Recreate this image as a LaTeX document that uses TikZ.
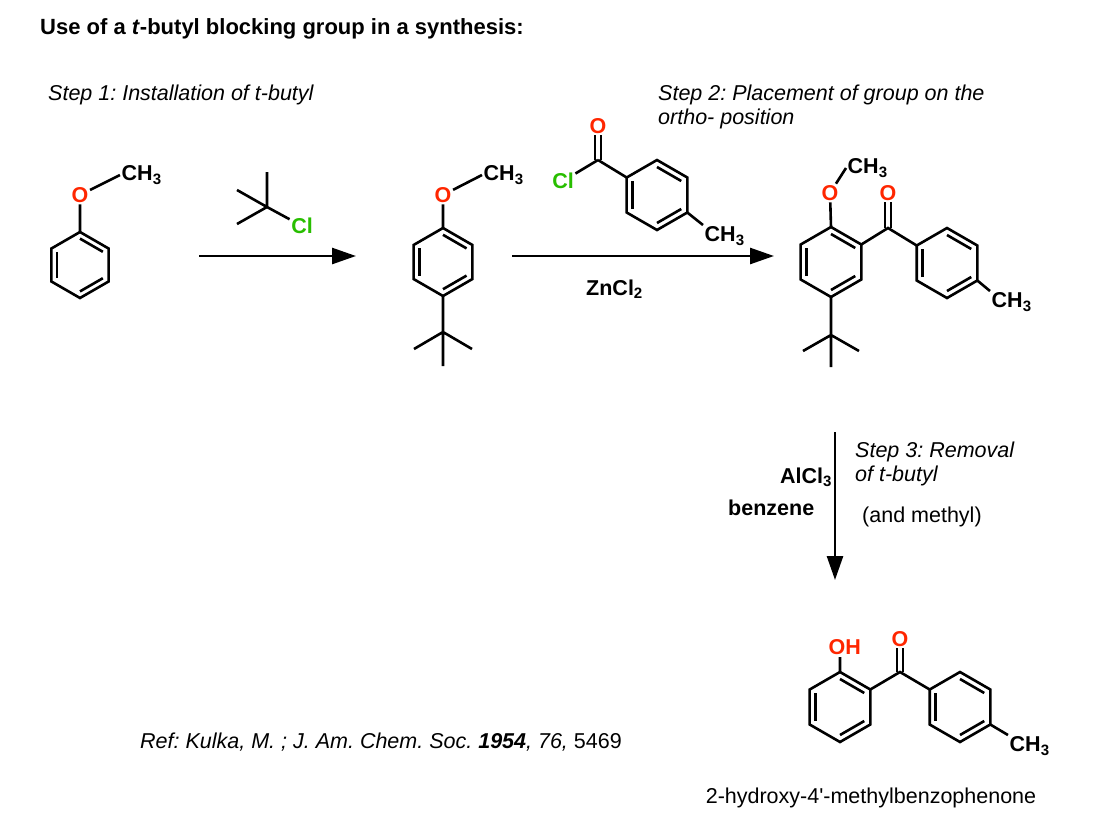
\documentclass[tikz,border=0pt]{standalone}
\usepackage{fontspec}
\setmainfont{Liberation Sans}
\newfontfamily\nomapfont{Liberation Sans}
\usetikzlibrary{calc,arrows.meta}
\definecolor{oxy}{RGB}{255,38,0}
\definecolor{clg}{RGB}{40,190,0}
\newcommand\benz[4]{%
  \coordinate (#3-c) at (#1,#2);
  \coordinate (#3-1) at ([shift={(#1,#2)}] 0,{-#4});
  \coordinate (#3-2) at ([shift={(#1,#2)}] {0.866*#4},{-0.5*#4});
  \coordinate (#3-3) at ([shift={(#1,#2)}] {0.866*#4},{0.5*#4});
  \coordinate (#3-4) at ([shift={(#1,#2)}] 0,{#4});
  \coordinate (#3-5) at ([shift={(#1,#2)}] {-0.866*#4},{0.5*#4});
  \coordinate (#3-6) at ([shift={(#1,#2)}] {-0.866*#4},{-0.5*#4});
  \draw[bond] (#3-1)--(#3-2)--(#3-3)--(#3-4)--(#3-5)--(#3-6)--cycle;
  \draw[bond] ($(#3-1)!0.2!(#3-c)$)--($(#3-2)!0.2!(#3-c)$);
  \draw[bond] ($(#3-3)!0.2!(#3-c)$)--($(#3-4)!0.2!(#3-c)$);
  \draw[bond] ($(#3-5)!0.2!(#3-c)$)--($(#3-6)!0.2!(#3-c)$);
}
\begin{document}
\frenchspacing
\begin{tikzpicture}[x=1pt,y=-1pt,
  bond/.style={line width=2.6pt,line join=miter},
  atom/.style={font=\fontsize{21.5}{22}\selectfont\bfseries,inner sep=1.5pt},
  ox/.style={atom,text=oxy},
  cl/.style={atom,text=clg},
  txt/.style={font=\fontsize{21.5}{24}\selectfont,inner sep=0pt,anchor=base west},
  itxt/.style={txt,font=\fontsize{21.5}{24}\selectfont\itshape},
  btxt/.style={txt,font=\fontsize{21.5}{24}\selectfont\bfseries},
  arr/.style={line width=2.6pt,-{Triangle[length=24pt,width=16pt]}}]
\useasboundingbox (0,0) rectangle (1098,836);
\node[btxt,font=\fontsize{22}{24}\selectfont\bfseries] (title) at (40,34) {Use of a \textit{t}-butyl blocking group in a synthesis:};
\node[itxt] (s1) at (48,100) {Step 1: Installation of t-butyl};
\node[itxt] (s2a) at (658,100) {Step 2: Placement of group on the};
\node[itxt] (s2b) at (658,124) {ortho- position};
% anisole
\benz{80}{265}{a}{33}
\node[ox] (aO) at (80,195) {O};
\node[atom,anchor=west] (aMe) at (120,175) {CH\textsubscript{3}};
\draw[bond] (a-1)--(aO) (aO)--(aMe.west);
% tBuCl
\coordinate (tc) at (267,207);
\node[cl] (tCl) at (302,226) {Cl};
\coordinate (tm1) at (267,172);
\coordinate (tm2) at (237,190);
\coordinate (tm3) at (237,224);
\draw[bond] (tc)--(tm1) (tc)--(tm2) (tc)--(tm3) (tc)--(tCl);
% arrow 1
\coordinate (r1s) at (199,256); \coordinate (r1e) at (356,256);
\draw[arr] (r1s)--(r1e);
% molecule 2
\benz{443}{262}{b}{34}
\node[ox] (bO) at (443,195) {O};
\node[atom,anchor=west] (bMe) at (482,175) {CH\textsubscript{3}};
\draw[bond] (b-1)--(bO) (bO)--(bMe.west);
\coordinate (bq) at (443,332);
\coordinate (bq1) at (414,349); \coordinate (bq2) at (472,349); \coordinate (bq3) at (443,366);
\draw[bond] (b-4)--(bq) (bq)--(bq1) (bq)--(bq2) (bq)--(bq3);
% acyl chloride
\benz{657}{195}{c}{35}
\coordinate (cC) at (598,160);
\node[ox] (cO) at (598,126) {O};
\node[cl] (cCl) at (563,181) {Cl};
\node[atom,anchor=west] (cMe) at (703,236) {CH\textsubscript{3}};
\draw[bond] (c-6)--(cC) (cC)--(cCl);
\draw[bond] ([xshift=-3pt]cC)--([xshift=-3pt]cO.south) ([xshift=3pt]cC)--([xshift=3pt]cO.south);
\draw[bond] (c-3)--(cMe.north west);
% arrow 2
\coordinate (r2s) at (512,256); \coordinate (r2e) at (774,256);
\draw[arr] (r2s)--(r2e);
\node[btxt] (zn) at (586,295) {ZnCl\textsubscript{2}};
% molecule 3
\benz{831}{262}{d}{35}
\benz{947}{263}{e}{35}
\node[ox] (dO) at (830,193) {O};
\node[atom,anchor=west] (dMe) at (846,168) {CH\textsubscript{3}};
\draw[bond] (d-1)--(dO) (dO)--(dMe.west);
\coordinate (dC) at (888,228);
\node[ox] (dCO) at (888,193) {O};
\draw[bond] (d-2)--(dC)--(e-6);
\draw[bond] ([xshift=-3pt]dC)--([xshift=-3pt]dCO.south) ([xshift=3pt]dC)--([xshift=3pt]dCO.south);
\node[atom,anchor=west] (eMe) at (990,302) {CH\textsubscript{3}};
\draw[bond] (e-3)--(eMe.north west);
\coordinate (dq) at (831,335);
\coordinate (dq1) at (803,351); \coordinate (dq2) at (859,351); \coordinate (dq3) at (831,367);
\draw[bond] (d-4)--(dq) (dq)--(dq1) (dq)--(dq2) (dq)--(dq3);
% arrow 3
\coordinate (r3s) at (835,432); \coordinate (r3e) at (835,580);
\draw[arr] (r3s)--(r3e);
\node[btxt] (al) at (780,483) {AlCl\textsubscript{3}};
\node[btxt] (bz) at (728,515) {benzene};
\node[itxt] (s3a) at (855,457) {Step 3: Removal};
\node[itxt] (s3b) at (855,481) {of t-butyl};
\node[txt] (s3c) at (862,522) {(and methyl)};
% product
\benz{840}{707}{f}{35}
\benz{960}{707}{g}{35}
\node[ox,anchor=south west] (fOH) at (827,656) {OH};
\coordinate (fC) at (900,672);
\node[ox] (fO) at (900,639) {O};
\draw[bond] (f-1)--(840,657) (f-2)--(fC)--(g-6);
\draw[bond] ([xshift=-3pt]fC)--([xshift=-3pt]fO.south) ([xshift=3pt]fC)--([xshift=3pt]fO.south);
\node[atom,anchor=west] (gMe) at (1008,746) {CH\textsubscript{3}};
\draw[bond] (g-3)--(gMe.north west);
\node[txt,font=\nomapfont\fontsize{21.5}{24}\selectfont,anchor=base] (name) at (871,803) {2-hydroxy-4'-methylbenzophenone};
\node[itxt] (ref) at (140,748) {Ref: Kulka, M. ; J. Am. Chem. Soc. \textbf{1954}, 76, \upshape 5469};
\end{tikzpicture}
\end{document}
